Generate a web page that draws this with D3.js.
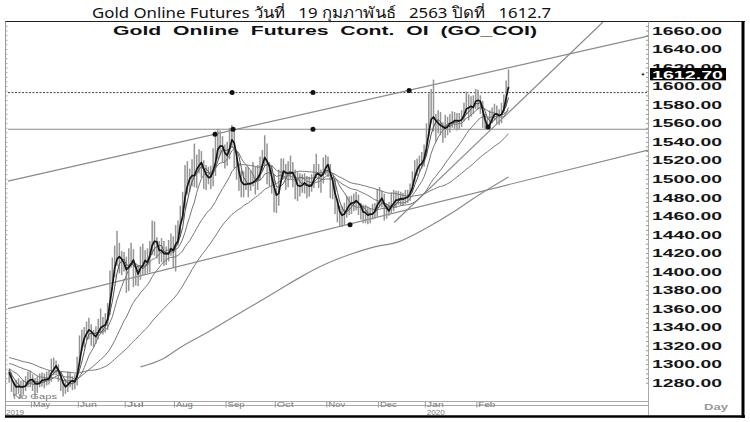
<!DOCTYPE html>
<html><head><meta charset="utf-8">
<script src="https://cdn.jsdelivr.net/npm/d3@7"></script>
<style>body{margin:0;background:#fff;}svg{display:block;}</style>
</head><body><svg id="c" width="750" height="422"></svg>
<script>
// ---------- DATA ----------
const priorCloses = [1313,1308,1309,1314,1316,1311,1306,1313,1314,1322,1327,1339,1346,1326,1327,1330,1327,1320,1316,
  1313,1287,1286,1287,1286,1298,1290,1297,1298,1309,1295,1302,1303,1306,1312,1320,1322,1313,1316,1291,1292,
  1294,1291,1290,1298,1303,1308,1293,1296,1290];
const closes = [
  // Apr
  1288,1276,1274,1276,1278,1272,1277,1280,1286,1283,
  // May
  1281,1274,1281,1283,1284,1282,1285,1286,1300,1297,1297,1287,1278,1274,1275,1284,1283,1279,1281,1303,
  // Jun
  1322,1328,1333,1337,1341,1328,1327,1334,1342,1341,1340,1346,1360,1392,1400,1418,1422,1408,1410,1409,
  // Jul
  1387,1418,1419,1400,1395,1397,1419,1403,1414,1412,1426,1446,1426,1424,1418,1426,1414,1418,1425,1430,1413,
  // Aug
  1445,1440,1464,1474,1500,1502,1497,1511,1502,1517,1523,1513,1496,1506,1502,1498,1526,1527,1542,1537,1527,1520,
  // Sep
  1529,1547,1550,1519,1507,1499,1486,1497,1499,1488,1498,1502,1494,1506,1516,1522,1531,1504,1505,1497,1472,
  // Oct
  1478,1503,1512,1510,1498,1510,1511,1499,1493,1487,1496,1496,1495,1489,1492,1497,1508,1510,1498,1501,1516,
  // Nov
  1518,1512,1488,1494,1471,1463,1460,1459,1467,1474,1472,1475,1476,1478,1468,1466,1459,1465,1458,1462,1466,1467,1481,
  // Dec
  1478,1478,1463,1465,1468,1478,1474,1479,1479,1478,1478,1482,1481,1489,1502,1513,1513,1517,1519,
  // Jan
  1528,1552,1566,1574,1560,1555,1565,1553,1550,1561,1557,1561,1564,1563,1561,1563,1567,1575,1584,1571,1580,1580,1591,
  // Feb
  1583,1577,1562,1552,1556,1566,1570,1573,1567,1565,1576,1584,1601,1612.7];
const highs = [
  1294,1291,1281,1283,1285,1282,1283,1287,1292,1293,
  1289,1285,1287,1290,1291,1290,1292,1293,1306,1307,1304,1300,1292,1283,1284,1292,1291,1287,1289,1308,
  1331,1337,1340,1346,1350,1343,1337,1341,1349,1360,1351,1355,1366,1401,1415,1428,1444,1431,1422,1421,
  1416,1425,1431,1424,1408,1407,1427,1430,1423,1425,1433,1455,1454,1437,1433,1436,1433,1427,1434,1441,1438,
  1450,1455,1471,1486,1515,1519,1511,1521,1538,1526,1532,1530,1520,1515,1513,1514,1533,1551,1554,1552,1546,1537,
  1540,1555,1558,1553,1529,1517,1509,1508,1513,1513,1509,1518,1513,1515,1524,1531,1547,1538,1518,1515,1504,
  1490,1510,1522,1522,1516,1519,1525,1518,1510,1507,1506,1505,1506,1503,1502,1505,1516,1527,1516,1510,1523,
  1526,1524,1516,1502,1499,1478,1471,1470,1474,1482,1481,1482,1484,1486,1483,1474,1472,1472,1470,1468,1473,1474,1489,
  1491,1487,1484,1473,1475,1485,1488,1487,1487,1486,1485,1488,1488,1495,1508,1520,1522,1525,1529,
  1537,1560,1592,1597,1607,1570,1574,1572,1561,1569,1567,1570,1573,1572,1571,1571,1574,1582,1594,1591,1589,1590,1597,
  1596,1590,1584,1570,1566,1574,1577,1581,1579,1575,1582,1591,1606,1618];
const lows = [
  1280,1270,1265,1267,1268,1263,1267,1271,1275,1275,
  1271,1263,1269,1275,1276,1274,1277,1278,1281,1288,1288,1281,1271,1265,1268,1270,1275,1272,1273,1277,
  1300,1314,1318,1326,1327,1320,1318,1322,1327,1333,1332,1334,1337,1353,1380,1394,1406,1398,1396,1400,
  1377,1379,1404,1383,1385,1384,1391,1396,1397,1398,1399,1418,1417,1414,1408,1410,1406,1407,1411,1417,1404,
  1400,1428,1437,1456,1468,1483,1486,1492,1491,1490,1506,1501,1489,1488,1494,1489,1492,1503,1521,1525,1518,1511,
  1514,1521,1534,1511,1499,1487,1480,1480,1488,1480,1487,1492,1483,1488,1498,1508,1514,1494,1492,1484,1464,
  1463,1471,1496,1500,1488,1491,1500,1491,1478,1476,1481,1485,1484,1479,1481,1486,1490,1501,1490,1485,1495,
  1504,1502,1479,1478,1462,1453,1449,1448,1450,1458,1461,1462,1465,1466,1461,1456,1452,1452,1451,1452,1456,1457,1459,
  1469,1469,1455,1457,1460,1462,1465,1469,1472,1471,1471,1473,1474,1476,1485,1497,1503,1507,1511,
  1513,1524,1546,1560,1551,1540,1549,1547,1539,1544,1547,1550,1555,1554,1552,1553,1556,1562,1569,1563,1567,1570,1575,
  1575,1570,1555,1553,1553,1553,1560,1563,1560,1558,1560,1571,1578,1596];
const monthLabels = ["May","Jun","Jul","Aug","Sep","Oct","Nov","Dec","Jan","Feb"];
const monthStarts = [10,30,50,71,93,114,136,158,178,200];
const yearLabels = ["2019","2020"];
const yearStarts = [-2,178];
const yTickValues = d3.range(1280, 1661, 20);
const ma200Points = [[56,1297],[65,1305],[73,1318],[85,1335],[95,1350],[105,1365],[115,1380],[125,1395],
  [135,1408],[145,1418],[155,1426],[166,1432],[178,1447],[190,1465],[200,1482],[213,1502]];
const maPeriods = [5,10,25,50];
const thickPeriod = 3;
const dottedLevel = 1593;
const solidLevel = 1553.5;
const trendLines = [
  [[-0.5,1497.4],[272.5,1654]],
  [[-0.5,1359.9],[272.5,1531]],
  [[164.2,1452.8],[253.3,1669.2]]];
const markers = [[87.8,1548],[95.5,1553.5],[129.6,1553.5],[95.1,1593],[129.6,1593],[170.6,1595.3],[145.4,1450.5],[204.3,1556]];
const lastPrice = 1612.7;

// ---------- SCALES ----------
const svg = d3.select("#c");
const x = d3.scaleLinear().domain([-0.5, 272.5]).range([8, 648]);
const y = d3.scaleLinear().domain([1280, 1660]).range([382.7, 30.5]);

// ---------- TITLES ----------
svg.append("text").attr("x",92).attr("y",18)
  .attr("font-family","'Noto Sans','DejaVu Sans',sans-serif").attr("font-size",15)
  .attr("textLength",459).attr("lengthAdjust","spacingAndGlyphs")
  .style("white-space","pre").attr("fill","#111")
  .text("Gold Online Futures วันที่   19 กุมภาพันธ์   2563 ปิดที่   1612.7");

// ---------- FRAME ----------
const g = svg.append("g");
g.append("line").attr("x1",5).attr("x2",745).attr("y1",21.5).attr("y2",21.5).attr("stroke","#222").attr("stroke-width",1.2);
g.append("line").attr("x1",5.5).attr("x2",5.5).attr("y1",21.5).attr("y2",416).attr("stroke","#999");
g.append("line").attr("x1",648.5).attr("x2",648.5).attr("y1",21.5).attr("y2",415).attr("stroke","#aaa");
g.append("line").attr("x1",6).attr("x2",648).attr("y1",401.5).attr("y2",401.5).attr("stroke","#aaa");
g.append("line").attr("x1",6).attr("x2",648).attr("y1",405.5).attr("y2",405.5).attr("stroke","#aaa");

svg.append("text").attr("x",113).attr("y",35)
  .attr("font-family","'Liberation Sans',Arial,sans-serif").attr("font-weight","bold").attr("font-size",13)
  .attr("textLength",424).attr("lengthAdjust","spacingAndGlyphs").attr("fill","#111")
  .style("white-space","pre")
  .text("Gold  Online  Futures  Cont.  OI  (GO_COI)");

// ---------- PLOT ----------
svg.append("clipPath").attr("id","clip").append("rect").attr("x",6).attr("y",22).attr("width",642).attr("height",379);
const p = svg.append("g").attr("clip-path","url(#clip)");

p.append("line").attr("x1",x(-0.5)).attr("x2",x(272.5)).attr("y1",y(dottedLevel)).attr("y2",y(dottedLevel))
  .attr("stroke","#444").attr("stroke-width",1).attr("stroke-dasharray","2,1.5");
p.append("line").attr("x1",x(-0.5)).attr("x2",x(272.5)).attr("y1",y(solidLevel)).attr("y2",y(solidLevel))
  .attr("stroke","#8a8a8a").attr("stroke-width",1.1);

p.selectAll("line.tl").data(trendLines).join("line").attr("class","tl")
  .attr("x1",d=>x(d[0][0])).attr("y1",d=>y(d[0][1])).attr("x2",d=>x(d[1][0])).attr("y2",d=>y(d[1][1]))
  .attr("stroke","#8a8a8a").attr("stroke-width",1.2);

p.append("path").datum(ma200Points)
  .attr("d",d3.line().x(d=>x(d[0])).y(d=>y(d[1])).curve(d3.curveMonotoneX))
  .attr("fill","none").attr("stroke","#8a8a8a").attr("stroke-width",1.2);

p.selectAll("line.bar").data(closes).join("line").attr("class","bar")
  .attr("x1",(d,i)=>x(i)).attr("x2",(d,i)=>x(i))
  .attr("y1",(d,i)=>y(highs[i])).attr("y2",(d,i)=>y(lows[i]))
  .attr("stroke","#959595").attr("stroke-width",1.5);

const all = priorCloses.concat(closes);
const off = priorCloses.length;
function sma(n){ return closes.map((c,i)=>d3.mean(all.slice(i+off-n+1, i+off+1))); }
const lineGen = d3.line().x((d,i)=>x(i)).y(d=>y(d));
maPeriods.forEach((n,k)=>{
  p.append("path").datum(sma(n)).attr("d",lineGen).attr("fill","none")
    .attr("stroke", k===0 ? "#555" : "#777").attr("stroke-width",1);
});
p.append("path").datum(sma(thickPeriod)).attr("d",lineGen).attr("fill","none")
  .attr("stroke","#151515").attr("stroke-width",1.7).attr("stroke-linejoin","round");

p.selectAll("circle.mk").data(markers).join("circle").attr("class","mk")
  .attr("cx",d=>x(d[0])).attr("cy",d=>y(d[1])).attr("r",2.5).attr("fill","#111");

// ---------- RIGHT AXIS ----------
const minor = d3.range(1280, 1666, 5);
svg.append("g").attr("transform","translate(648.5,0)")
  .call(d3.axisLeft(y).tickValues(minor).tickSize(2.5).tickFormat(""))
  .call(a=>{a.select(".domain").remove(); a.selectAll("line").attr("stroke","#999");});
svg.append("g").attr("transform","translate(5.5,0)")
  .call(d3.axisRight(y).tickValues(minor).tickSize(2).tickFormat(""))
  .call(a=>{a.select(".domain").remove(); a.selectAll("line").attr("stroke","#aaa");});

svg.selectAll("text.yl").data(yTickValues).join("text").attr("class","yl")
  .attr("x",652).attr("y",d=>y(d)+4.2)
  .attr("font-family","'Liberation Sans',Arial,sans-serif").attr("font-weight","bold").attr("font-size",11.5)
  .attr("textLength",70).attr("lengthAdjust","spacingAndGlyphs").attr("fill","#151515")
  .text(d=>d.toFixed(2));

svg.append("circle").attr("cx",643).attr("cy",y(lastPrice)).attr("r",1.2).attr("fill","#333");
svg.append("rect").attr("x",650).attr("y",y(lastPrice)-6.3).attr("width",76).attr("height",12.3).attr("fill","#000");
svg.append("text").attr("x",652).attr("y",y(lastPrice)+4.3)
  .attr("font-family","'Liberation Sans',Arial,sans-serif").attr("font-weight","bold").attr("font-size",11.5)
  .attr("textLength",71).attr("lengthAdjust","spacingAndGlyphs").attr("fill","#fff")
  .text(lastPrice.toFixed(2));

// ---------- BOTTOM AXIS ----------
const bx = svg.append("g");
bx.selectAll("line.mt").data(monthStarts).join("line").attr("class","mt")
  .attr("x1",d=>x(d-0.5)).attr("x2",d=>x(d-0.5)).attr("y1",401.5).attr("y2",407.5)
  .attr("stroke","#999");
bx.selectAll("text.ml").data(monthLabels).join("text").attr("class","ml")
  .attr("x",(d,i)=>x(monthStarts[i]-0.5)+1.5).attr("y",407)
  .attr("font-family","'Liberation Sans',Arial,sans-serif").attr("font-size",7.5)
  .attr("textLength",17).attr("lengthAdjust","spacingAndGlyphs").attr("fill","#7a7a7a")
  .text(d=>d);
bx.selectAll("text.yr").data(yearLabels).join("text").attr("class","yr")
  .attr("x",(d,i)=>Math.max(6, x(yearStarts[i]-0.5)+1.5)).attr("y",414.5)
  .attr("font-family","'Liberation Sans',Arial,sans-serif").attr("font-size",7)
  .attr("textLength",18).attr("lengthAdjust","spacingAndGlyphs").attr("fill","#7a7a7a")
  .text(d=>d);
svg.append("text").attr("x",13).attr("y",398.5)
  .attr("font-family","'Liberation Sans',Arial,sans-serif").attr("font-size",7)
  .attr("textLength",44).attr("lengthAdjust","spacingAndGlyphs").attr("fill","#7a7a7a")
  .text("No Gaps");
svg.append("text").attr("x",704).attr("y",410)
  .attr("font-family","'Liberation Sans',Arial,sans-serif").attr("font-weight","bold").attr("font-size",8.5)
  .attr("textLength",24).attr("lengthAdjust","spacingAndGlyphs").attr("fill","#999")
  .text("Day");

svg.append("line").attr("x1",743).attr("x2",743).attr("y1",21).attr("y2",418).attr("stroke","#000").attr("stroke-width",3);
svg.append("line").attr("x1",5).attr("x2",745).attr("y1",416.5).attr("y2",416.5).attr("stroke","#000").attr("stroke-width",2.5);
</script></body></html>
